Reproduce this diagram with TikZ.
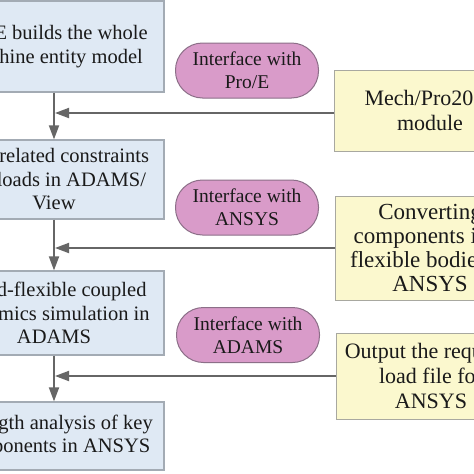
\documentclass[tikz,border=0pt]{standalone}
\usepackage{fontspec}
\setmainfont{Liberation Serif}
\usetikzlibrary{arrows.meta}
\definecolor{lbfill}{HTML}{DFE9F4}
\definecolor{lbdraw}{HTML}{A3ABB4}
\definecolor{pkfill}{HTML}{D99BC9}
\definecolor{pkdraw}{HTML}{8C6F88}
\definecolor{ylfill}{HTML}{FBF8CE}
\definecolor{yldraw}{HTML}{A8A8A0}
\definecolor{lncol}{HTML}{666666}
\definecolor{txt}{HTML}{1A1A1A}
\begin{document}
\begin{tikzpicture}[x=1pt,y=-1pt,
  leftbox/.style={draw=lbdraw,fill=lbfill,line width=1.2pt,minimum width=220pt,inner sep=0pt,align=center,text=txt,font=\fontsize{20.5}{23.5}\selectfont},
  pill/.style={draw=pkdraw,fill=pkfill,line width=1pt,rounded corners=27pt,minimum width=143pt,minimum height=55pt,inner sep=0pt,align=center,text=txt,font=\fontsize{19.5}{23}\selectfont},
  ybox/.style={draw=yldraw,fill=ylfill,line width=1pt,inner sep=0pt,align=center,text=txt},
  conn/.style={draw=lncol,line width=1.8pt,-{Triangle[length=14pt,width=10pt]}}]
\useasboundingbox (0,0) rectangle (474,474);
\clip (0,0) rectangle (474,474);
\fill[white] (0,0) rectangle (474,474);
% left column
\node[leftbox,minimum height=91pt] (L1) at (54,46.5) {Pro/E builds the whole\\machine entity model};
\node[leftbox,minimum height=79pt] (L2) at (54,179.5) {Add related constraints\\and loads in ADAMS/\\View};
\node[leftbox,minimum height=84pt] (L3) at (54,313) {Rigid-flexible coupled\\dynamics simulation in\\ADAMS};
\node[leftbox,minimum height=68pt] (L4) at (54,436) {Strength analysis of key\\components in ANSYS};
% pills
\node[pill] (P1) at (247,70.5) {Interface with\\Pro/E};
\node[pill] (P2) at (247,207.5) {Interface with\\ANSYS};
\node[pill] (P3) at (248,335) {Interface with\\ADAMS};
% yellow boxes
\node[ybox,minimum width=192pt,minimum height=81pt,font=\fontsize{22}{25}\selectfont] (Y1) at (430,110.5) {Mech/Pro2005\\module};
\node[ybox,minimum width=190pt,minimum height=104pt,font=\fontsize{23}{24}\selectfont] (Y2) at (430,248) {Converting\\components into\\flexible bodies in\\ANSYS};
\node[ybox,minimum width=190pt,minimum height=86pt,font=\fontsize{22}{25}\selectfont] (Y3) at (431,376) {Output the required\\load file for\\ANSYS};
% connectors
\draw[conn] (L1.south) -- (L2.north);
\draw[conn] (L2.south) -- (L3.north);
\draw[conn] (L3.south) -- (L4.north);
\draw[conn,shorten >=1pt] ([yshift=-2.5pt]Y1.west) -- ([yshift=-2.5pt]Y1.west -| L1.south);
\draw[conn,shorten >=1pt] (Y2.west) -- (Y2.west -| L1.south);
\draw[conn,shorten >=1pt] (Y3.west) -- (Y3.west -| L1.south);
\end{tikzpicture}
\end{document}
